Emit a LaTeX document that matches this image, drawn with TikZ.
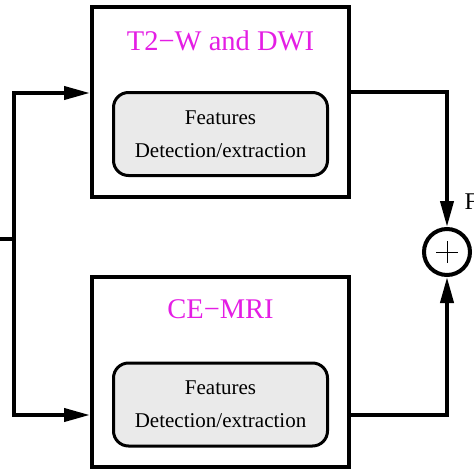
\documentclass[tikz,border=0pt]{standalone}
\usepackage{fontspec}
\setmainfont{Liberation Serif}
\usepackage{xcolor}
\usetikzlibrary{arrows.meta,calc}
\definecolor{modmag}{RGB}{228,30,228}
\definecolor{featgray}{RGB}{234,234,234}

\begin{document}
\begin{tikzpicture}[x=1pt,y=-1pt,
	outerbox/.style={draw,line width=4pt,minimum width=257pt,minimum height=190pt},
	featbox/.style={draw,line width=3pt,fill=featgray,rounded corners=15pt,minimum width=214pt,minimum height=83pt,align=center,font=\fontsize{21}{33}\selectfont},
	modtitle/.style={text=modmag,font=\fontsize{28.5}{30}\selectfont},
	flow/.style={line width=4pt,-{Triangle[length=26pt,width=13pt]}}]
		\useasboundingbox (0,0) rectangle (474,474);
		% two branches
		\node[outerbox] (topbox) at (220.5,102) {};
		\node[featbox] (topfeat) at (220.5,134) {Features\\Detection/extraction};
		\node[modtitle] (toptitle) at (220.5,41) {T2−W and DWI};
		\node[outerbox] (botbox) at (220.5,371.5) {};
		\node[featbox] (botfeat) at (220.5,404.5) {Features\\Detection/extraction};
		\node[modtitle] (bottitle) at (220.5,309) {CE−MRI};
		% fusion
		\node[draw,circle,line width=4pt,minimum size=46pt,inner sep=0pt] (sum) at (447,252) {};
		\draw[line width=1pt] ($(sum)+(-11,0)$) -- ($(sum)+(11,0)$);
		\draw[line width=1pt] ($(sum)+(0,-11)$) -- ($(sum)+(0,11)$);
		\node[anchor=west,font=\fontsize{24}{26}\selectfont] (fuselabel) at (461,202) {F};
		% input split
		\coordinate (in) at (0,239);
		\coordinate (split) at (14,239);
		\draw[line width=4pt] (in) -- (split);
		\draw[flow] (split) |- ([yshift=9pt]topbox.west);
		\draw[flow] (split) |- ([yshift=-43.5pt]botbox.west);
		\draw[flow] ([yshift=10pt]topbox.east) -| (sum.north);
		\draw[flow] ([yshift=-43.5pt]botbox.east) -| (sum.south);
\end{tikzpicture}
\end{document}
